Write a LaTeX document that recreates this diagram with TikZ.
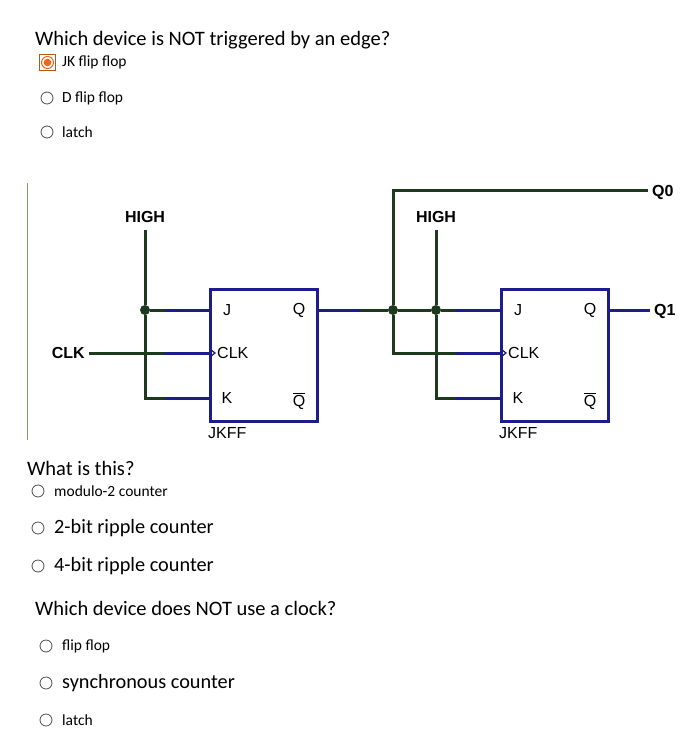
\documentclass[tikz,border=0pt]{standalone}
\usepackage{fontspec}
\setmainfont{Carlito}
\newfontfamily\circfont{Liberation Sans}
\usetikzlibrary{calc, arrows.meta}

\begin{document}
\begin{tikzpicture}[
    x=1pt, y=-1pt,
    >=Latex,
    question/.style={anchor=west, inner sep=0pt, font=\fontsize{20.5}{24}\selectfont},
    answer/.style={anchor=west, inner sep=0pt, font=\fontsize{15.5}{17}\selectfont},
    answerbig/.style={anchor=west, inner sep=0pt, font=\fontsize{20.3}{22}\selectfont},
    radio/.style={circle, draw=black!70, line width=0.8pt, minimum size=12pt, inner sep=0pt},
    wireG/.style={line width=3pt, draw=wireGreen},
    wireB/.style={line width=3pt, draw=wireBlue},
    ffbox/.style={draw=wireBlue, line width=3pt, fill=white},
    pin/.style={font=\circfont\fontsize{16}{18}\selectfont, inner sep=0pt},
    tag/.style={font=\circfont\bfseries\fontsize{16}{18}\selectfont, inner sep=0pt},
    dot/.style={circle, fill=wireGreen, inner sep=0pt, minimum size=10pt}
]

    % Define colors
    \definecolor{wireGreen}{HTML}{1E3A1E}
    \definecolor{wireBlue}{HTML}{1C1C8A}
    \definecolor{selOrange}{HTML}{E86A20}
    \definecolor{selBorder}{HTML}{A85A20}
    \definecolor{barGreen}{HTML}{7AA060}

    \useasboundingbox (0,0) rectangle (692,736);

    % 1. First question
    \node[question] (q1) at (35,40) {Which device is NOT triggered by an edge?};
    \draw[selBorder, line width=1.4pt] (39.5,54.5) rectangle (55.5,70.5);
    \node[circle, draw=selOrange, line width=1pt, minimum size=12pt, inner sep=0pt] (r1) at (47.5,62.5) {};
    \fill[selOrange] (r1) circle (3.8pt);
    \node[answer] (a1) at (62,62) {JK flip flop};
    \node[radio] (r2) at (47,98) {};
    \node[answer] (a2) at (62,98) {D flip flop};
    \node[radio] (r3) at (47,132) {};
    \node[answer] (a3) at (62,132) {latch};

    % 2. Circuit
    \draw[barGreen, line width=0.8pt] (27,183) -- (27,440);

    % Flip flop boxes
    \node[ffbox, minimum width=107pt, minimum height=132pt, anchor=north west] (ffA) at (209,288) {};
    \node[ffbox, minimum width=107pt, minimum height=132pt, anchor=north west] (ffB) at (500,288) {};

    \foreach \ff in {ffA, ffB} {
        \coordinate (\ff J) at ($(\ff.north west)+(0,22)$);
        \coordinate (\ff C) at ($(\ff.north west)+(0,65)$);
        \coordinate (\ff K) at ($(\ff.north west)+(0,110)$);
        \coordinate (\ff Q) at ($(\ff.north east)+(0,22)$);
        \node[pin] at ($(\ff J)+(18,0)$) {J};
        \node[pin, anchor=west] at ($(\ff C)+(8,0)$) {CLK};
        \node[pin] at ($(\ff K)+(18,0)$) {K};
        \node[pin] at ($(\ff Q)+(-20,0)$) {Q};
        \node[pin] at ($(\ff.south east)+(-20,-22)$) {$\overline{\mbox{Q}}$};
        \node[pin, anchor=north west] at ($(\ff.south west)+(-1,4)$) {JKFF};
        \draw[wireBlue, line width=1.2pt] ($(\ff C)+(1,-4)$) -- ($(\ff C)+(6,0)$) -- ($(\ff C)+(1,4)$);
    }

    % HIGH inputs
    \node[tag] (hiA) at (145,217) {HIGH};
    \node[tag] (hiB) at (436,217) {HIGH};
    \node[dot] (dA) at (145,310) {};
    \node[dot] (dB) at (436,310) {};
    \node[dot] (dQ) at (393,310) {};
    \draw[wireG] (145,230) -- (dA) -- (145,398) -- (165,398);
    \draw[wireB] (165,398) -- (ffAK);
    \draw[wireG] (dA) -- (165,310);
    \draw[wireB] (165,310) -- (ffAJ);
    \draw[wireG] (436,230) -- (dB) -- (436,398) -- (456,398);
    \draw[wireB] (456,398) -- (ffBK);
    \draw[wireG] (dB) -- (456,310);
    \draw[wireB] (456,310) -- (ffBJ);

    % Clock
    \node[tag, anchor=east] (clk) at (85,353) {CLK};
    \draw[wireG] (clk.east) ++(4,0) -- (165,353);
    \draw[wireB] (165,353) -- (ffAC);

    % Q0 to second stage
    \draw[wireB] (ffAQ) -- (360,310);
    \draw[wireG] (360,310) -- (dQ) -- (dB);
    \node[tag, anchor=west] (q0) at (652,192) {Q0};
    \draw[wireG] (dQ) -- (393,190) -- ($(q0.west)+(-4,-2)$);
    \draw[wireG] (dQ) -- (393,353) -- (456,353);
    \draw[wireB] (456,353) -- (ffBC);
    \node[tag, anchor=west] (q1o) at (654,311) {Q1};
    \draw[wireB] (ffBQ) -- ($(q1o.west)+(-4,-1)$);

    % 3. Second question
    \node[question] (q2) at (27,468) {What is this?};
    \node[radio] (r4) at (38,491) {};
    \node[answer] (a4) at (54,491) {modulo-2 counter};
    \node[radio] (r5) at (38,528) {};
    \node[answerbig] (a5) at (54,528) {2-bit ripple counter};
    \node[radio] (r6) at (38,566) {};
    \node[answerbig] (a6) at (54,566) {4-bit ripple counter};

    % 4. Third question
    \node[question] (q3) at (35,608) {Which device does NOT use a clock?};
    \node[radio] (r7) at (46,646) {};
    \node[answer] (a7) at (62,646) {flip flop};
    \node[radio] (r8) at (46,683) {};
    \node[answerbig] (a8) at (62,683) {synchronous counter};
    \node[radio] (r9) at (46,720) {};
    \node[answer] (a9) at (62,720) {latch};

\end{tikzpicture}
\end{document}
